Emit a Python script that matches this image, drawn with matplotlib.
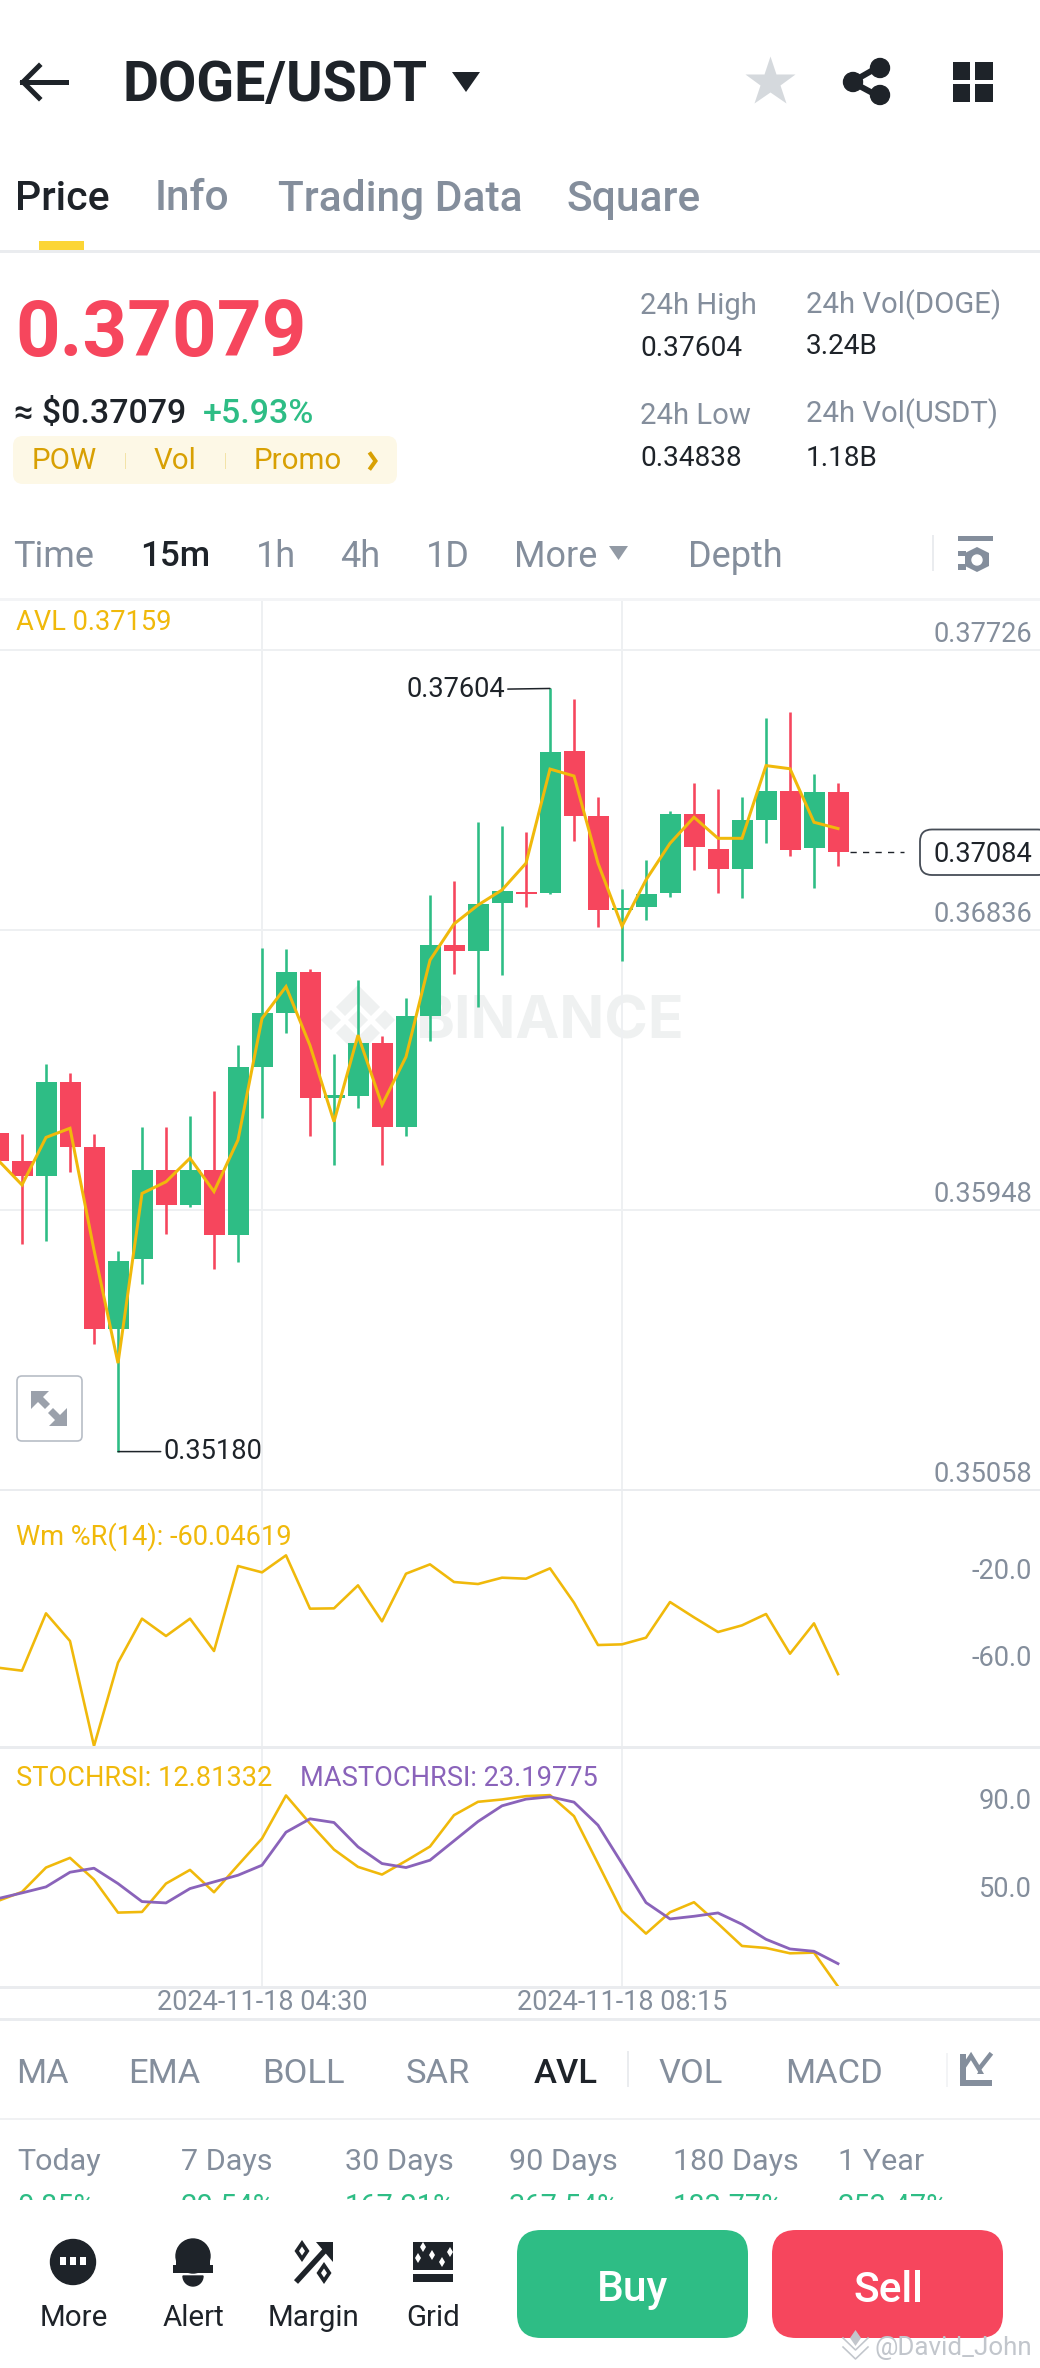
import matplotlib
matplotlib.use("Agg")
import matplotlib.pyplot as plt
from matplotlib.patches import FancyBboxPatch, Circle, Polygon, Rectangle, Wedge, Ellipse
from matplotlib.transforms import ScaledTranslation

plt.rcParams['font.family'] = ['Roboto', 'DejaVu Sans']

# ---- data ----
opens = [.36193, .36102, .36056, .36354, .36148, .35570, .35792, .36073, .35963, .36073, .35869, .36403,
         .36572, .36703, .36304, .36310, .36479, .36211, .36565, .36790, .36770, .36922, .36958, .36955,
         .37404, .37198, .36899, .36909, .36954, .37205, .37094, .37030, .37187, .37278, .37098, .37274]
highs = [.36210, .36188, .36411, .36382, .36188, .35818, .36212, .36212, .36246, .36325, .36470, .36779,
         .36775, .36713, .36443, .36678, .36500, .36622, .36949, .36992, .37179, .37167, .37147, .37604,
         .37571, .37259, .36966, .37059, .37215, .37304, .37284, .37260, .37509, .37528, .37333, .37303]
lows = [.36090, .35839, .35850, .36068, .35521, .35180, .35713, .35870, .35958, .35759, .35783, .36239,
        .36509, .36183, .36089, .36271, .36089, .36183, .36485, .36696, .36593, .36693, .36909, .36950,
        .37119, .36847, .36738, .36869, .36943, .37027, .36955, .36937, .37114, .37072, .36970, .37041]
closes = [.36104, .36056, .36354, .36148, .35570, .35786, .36073, .35963, .36073, .35869, .36402, .36574,
          .36703, .36304, .36313, .36479, .36210, .36564, .36789, .36770, .36919, .36960, .36951, .37402,
          .37198, .36899, .36906, .36951, .37205, .37101, .37030, .37187, .37278, .37092, .37275, .37084]
avl = [.36106, .36027, .36178, .36207, .35820, .35461, .36000, .36037, .36112, .36006, .36170, .36556,
       .36657, .36470, .36228, .36503, .36281, .36434, .36741, .36856, .36916, .36964, .37049, .37348,
       .37326, .37049, .36849, .36996, .37112, .37195, .37128, .37128, .37359, .37349, .37179, .37159]
wm_r = [-57.10, -58.47, -32.21, -44.88, -92.98, -54.81, -34.65, -42.59, -34.65, -49.46, -10.53, -13.43,
        -5.64, -30.07, -29.92, -19.38, -35.87, -14.04, -9.76, -17.85, -18.77, -15.87, -16.33, -11.59,
        -27.32, -46.72, -46.41, -43.36, -27.02, -34.04, -40.76, -37.71, -32.51, -50.69, -36.79, -60.05]
stoch_rsi = [51.68, 55.77, 66.83, 71.23, 61.38, 46.38, 46.68, 59.56, 65.77, 55.62, 67.89, 80.01,
             99.56, 86.83, 75.01, 67.14, 63.65, 69.86, 76.38, 90.62, 96.68, 97.74, 99.25, 99.71,
             90.16, 68.65, 46.99, 36.84, 46.53, 51.08, 41.38, 31.23, 30.32, 27.90, 28.20, 12.81]
ma_stoch_rsi = [52.74, 55.32, 58.05, 64.71, 66.53, 59.56, 51.38, 50.77, 57.29, 60.32, 63.35, 67.89,
                82.89, 88.95, 87.28, 76.23, 68.65, 66.83, 70.17, 78.95, 87.74, 94.86, 97.89, 98.95,
                96.53, 86.07, 68.65, 50.92, 43.50, 44.71, 46.23, 41.08, 34.26, 29.87, 28.81, 23.20]
price_ticks = [.37726, .36836, .35948, .35058]
price_labels = ['0.37726', '0.36836', '0.35948', '0.35058']
wm_ticks = [-20.0, -60.0]
stoch_ticks = [90.0, 50.0]
time_ticks = [11, 26]
time_labels = ['2024-11-18 04:30', '2024-11-18 08:15']
last_price = 0.37084
high_idx, high_val = 23, 0.37604
low_idx, low_val = 5, 0.35180
tabs = ['Price', 'Info', 'Trading Data', 'Square']
intervals = ['Time', '15m', '1h', '4h', '1D', 'More', 'Depth']
indicators = ['MA', 'EMA', 'BOLL', 'SAR', 'AVL', 'VOL', 'MACD']
periods = ['Today', '7 Days', '30 Days', '90 Days', '180 Days', '1 Year']
period_values = ['0.85%', '20.54%', '167.21%', '367.54%', '183.77%', '253.47%']

GREEN, RED, YEL, PUR = '#2EBD85', '#F6465D', '#F0B90B', '#8A63BA'
DARK, GRAY, GRID = '#1E2329', '#848E9C', '#EEF0F2'
W, H = 1040, 2368
PT = 0.72  # points per pixel at dpi 100
LBL = 27.2

fig = plt.figure(figsize=(W / 100, H / 100), dpi=100, facecolor='white')


def px_axes(z):
    a = fig.add_axes([0, 0, 1, 1], zorder=z)
    a.set_xlim(0, W)
    a.set_ylim(H, 0)
    a.axis('off')
    a.patch.set_alpha(0)
    return a


bg = px_axes(0)
ui = px_axes(5)


def panel(top, bottom, ylim, yticks, ylabels):
    a = fig.add_axes([0, 1 - bottom / H, 1, (bottom - top) / H], zorder=2)
    a.patch.set_alpha(0)
    a.set_xlim(2 / 24, 1042 / 24)
    a.set_ylim(*ylim)
    for s in a.spines.values():
        s.set_visible(False)
    a.set_xticks(time_ticks)
    a.tick_params(axis='x', length=0, labelbottom=False)
    a.grid(axis='x', color=GRID, lw=2 * PT)
    a.set_axisbelow(True)
    a.yaxis.tick_right()
    a.set_yticks(yticks)
    a.set_yticklabels(ylabels)
    a.tick_params(axis='y', length=0, pad=-8 * PT, labelsize=LBL * PT, labelcolor=GRAY)
    off = ScaledTranslation(0, 8 / 100, fig.dpi_scale_trans)
    for t in a.yaxis.get_major_ticks():
        t.label2.set_ha('right')
        t.label2.set_va('baseline')
        t.label2.set_transform(t.label2.get_transform() + off)
    return a


main = panel(600, 1490, (0.35058, 0.37885), price_ticks, price_labels)
main.grid(axis='y', color=GRID, lw=2 * PT)
wm = panel(1490, 1746.7, (-93.3, 24.3), wm_ticks, ['-20.0', '-60.0'])
st = panel(1746.7, 1987, (12.6, 121.7), stoch_ticks, ['90.0', '50.0'])

# candles
idx = list(range(len(opens)))
cols = [GREEN if c > o else RED for o, c in zip(opens, closes)]
main.vlines(idx, lows, highs, colors=cols, lw=2.6 * PT, zorder=2)
main.bar(idx, [abs(c - o) for o, c in zip(opens, closes)], bottom=[min(o, c) for o, c in zip(opens, closes)],
         width=0.875, color=cols, zorder=3, linewidth=0)
main.plot(idx, avl, color=YEL, lw=3 * PT, zorder=4, solid_joinstyle='miter')
wm.plot(idx, wm_r, color=YEL, lw=2.6 * PT)
st.plot(idx, stoch_rsi, color=YEL, lw=2.6 * PT, clip_on=False)
st.plot(idx, ma_stoch_rsi, color=PUR, lw=2.8 * PT)
st.set_xticklabels(time_labels)
st.tick_params(axis='x', labelbottom=True, labelsize=27 * PT, labelcolor=GRAY, pad=1.5)

main.annotate(f'{high_val:.5f}', xy=(high_idx, high_val), xytext=(-45 * PT, -1), textcoords='offset points',
              ha='right', va='center', fontsize=LBL * PT, color=DARK,
              arrowprops=dict(arrowstyle='-', lw=1.1, color=DARK, shrinkA=0, shrinkB=0))
main.annotate(f'{low_val:.5f}', xy=(low_idx, low_val), xytext=(45.5 * PT, 0), textcoords='offset points',
              ha='left', va='center', fontsize=LBL * PT, color=DARK,
              arrowprops=dict(arrowstyle='-', lw=1.1, color=DARK, shrinkA=0, shrinkB=0))
main.plot([len(opens) - 0.5, len(opens) + 1.75], [last_price, last_price], color=DARK, lw=1, ls=(0, (4.5, 4.5)), zorder=3)


def T(x, y, s, px, color=DARK, weight='normal', ha='left', va='center', a=ui, **kw):
    return a.text(x, y + 6, s, fontsize=px * PT, color=color, fontweight=weight, ha=ha, va=va, **kw)


def rect(x0, y0, x1, y1, color, a=ui, **kw):
    a.add_patch(Rectangle((x0, y0), x1 - x0, y1 - y0, facecolor=color, edgecolor='none', **kw))


def rrect(x0, y0, x1, y1, r, fc, ec='none', lw=0, a=ui, **kw):
    a.add_patch(FancyBboxPatch((x0 + r, y0 + r), x1 - x0 - 2 * r, y1 - y0 - 2 * r,
                               boxstyle=f'round,pad={r},rounding_size={r}', facecolor=fc, edgecolor=ec, lw=lw, **kw))


def poly(pts, color, a=ui, **kw):
    a.add_patch(Polygon(pts, closed=True, facecolor=color, edgecolor='none', **kw))


def line(xs, ys, color=DARK, lw=4, a=ui, **kw):
    a.plot(xs, ys, color=color, lw=lw * PT, **kw)


# watermark
WMC = '#EFF1F1'
cx, cy = 358, 1020
for dx in (-27, 0, 27):
    poly([(cx + dx - 10, cy), (cx + dx, cy - 10), (cx + dx + 10, cy), (cx + dx, cy + 10)], WMC, a=bg)
for sgn in (-1, 1):
    poly([(cx, cy + sgn * 35), (cx + 22, cy + sgn * 13), (cx + 13, cy + sgn * 4), (cx, cy + sgn * 17),
          (cx - 13, cy + sgn * 4), (cx - 22, cy + sgn * 13)], WMC, a=bg)
T(415, 1017, 'BINANCE', 59, WMC, 'bold', a=bg, zorder=1, family='Inter')

# header
line([22, 66], [82, 82], lw=5)
line([39, 23, 39], [66, 82, 98], lw=5, solid_joinstyle='miter')
T(123, 80, 'DOGE/USDT', 55.5, DARK, 'bold')
poly([(452, 72), (480, 72), (466, 92)], DARK)
ui.plot(770, 82, marker='*', ms=38, color='#D5D9DD', mec='none')
line([880, 852, 880], [66, 82, 97], lw=6)
for c in ((880, 68), (880, 95), (853, 82)):
    ui.add_patch(Circle(c, 9.5, color=DARK))
for x0, x1 in ((953, 970), (975, 993)):
    for y0, y1 in ((62, 80), (84, 102)):
        rect(x0, y0, x1, y1, DARK)

# tabs
tab_x = [15, 155, 278, 566]
for i, (s, x) in enumerate(zip(tabs, tab_x)):
    T(x, 193, s, 41 if i == 0 else 42.5, DARK if i == 0 else GRAY, 'medium')
rect(39, 241, 84, 250, '#FCD535')
rect(0, 250, W, 252.5, '#EAECEF')

# price block
T(15, 329, '0.37079', 78, RED, 'bold')
T(14, 408, '≈ $0.37079', 34, DARK, 'medium')
T(203, 408, '+5.93%', 34, GREEN, 'medium')
rrect(13, 436, 397, 484, 10, '#FDF8E6')
PC = '#D8A003'
T(32, 455, 'POW', 29.5, PC)
T(154, 455, 'Vol', 29.5, PC)
T(254, 455, 'Promo', 29.5, PC)
rect(124.5, 453, 126, 469, '#F3E3A8')
rect(224.5, 453, 226, 469, '#F3E3A8')
line([370.5, 375.5, 370.5], [454, 461, 468], color=PC, lw=4, solid_joinstyle='miter')

for x, y, s, c in [(640, 300, '24h High', GRAY), (806, 299, '24h Vol(DOGE)', GRAY), (640, 343, '0.37604', DARK),
                   (806, 341, '3.24B', DARK), (640, 410, '24h Low', GRAY), (806, 408, '24h Vol(USDT)', GRAY),
                   (640, 453, '0.34838', DARK), (806, 452, '1.18B', DARK)]:
    T(x, y, s, 29.3 if c == GRAY else 28, c)

# interval row
int_x = [13, 140, 256, 340, 426, 514, 688]
for s, x in zip(intervals, int_x):
    T(x, 551, s, 36 if s != '15m' else 35, DARK if s == '15m' else GRAY, 'medium' if s == '15m' else 'normal')
poly([(609, 546), (628, 546), (618.5, 560)], '#929AA5')
rect(932, 535, 933.5, 571, '#EAECEF')
rect(958, 536, 993, 541, GRAY)
rect(958, 551, 966, 556, GRAY)
rect(958, 564, 966, 570, GRAY)
poly([(977, 547), (989, 553), (989, 566), (977, 572), (965, 566), (965, 553)], GRAY)
ui.add_patch(Circle((977, 560), 5, color='white'))
rect(0, 597.5, W, 600.5, '#F3F4F6')

# chart overlays
T(16, 616, 'AVL 0.37159', LBL, YEL)
T(16, 1531, 'Wm %R(14): -60.04619', LBL, YEL)
T(16, 1773, 'STOCHRSI: 12.81332', LBL, YEL)
T(300, 1773, 'MASTOCHRSI: 23.19775', LBL, PUR)
rect(0, 1489, W, 1491, '#EAECEF')
rect(0, 1745.5, W, 1748.5, '#EAECEF')
rect(0, 1985.5, W, 1988.5, '#EAECEF')
rrect(920, 829.5, 1050, 875, 12, 'white', ec='#474D57', lw=1.3)
T(1032, 848, f'{last_price:.5f}', LBL, DARK, ha='right')
rrect(17, 1376, 82, 1441, 5, 'white', ec='#B7BDC6', lw=1.2)
EC = '#9BA1AB'
poly([(31, 1391), (49, 1391), (43, 1397), (50, 1404), (45, 1409), (38, 1402), (31, 1409)], EC)
poly([(67, 1426), (49, 1426), (55, 1420), (48, 1413), (53, 1408), (60, 1415), (67, 1408)], EC)

# indicator row
ind_x = [16, 128, 262, 406, 534, 659, 785]
for s, x in zip(indicators, ind_x):
    T(x, 2068, s, 34.5, DARK if s == 'AVL' else GRAY, 'medium' if s == 'AVL' else 'normal')
rect(627, 2051, 628.5, 2087, '#EAECEF')
rect(946, 2053, 947.5, 2087, '#F3F4F6')
rect(960, 2080, 992, 2086, GRAY)
rect(960, 2054, 966, 2086, GRAY)
line([963, 971, 979, 990], [2068, 2056, 2069, 2055], color=GRAY, lw=4.5, solid_joinstyle='miter')
poly([(977, 2074), (984, 2074), (980.5, 2068)], GRAY)
rect(0, 2018, W, 2021, '#EAECEF')
rect(0, 2118, W, 2120, '#F0F1F3')

# performance row
per_x = [17, 181, 345, 509, 673, 838]
for s, v, x in zip(periods, period_values, per_x):
    T(x, 2156, s, 30.5, GRAY)
    T(x, 2201, v, 29, GREEN)
rect(0, 2199.5, W, 2226, 'white', zorder=4)

# bottom bar
ui.add_patch(Circle((73, 2262), 22.5, color=DARK))
for x in (60, 70, 80):
    rect(x, 2257, x + 6, 2265, 'white')
ui.add_patch(Ellipse((193, 2256), 34, 34, color=DARK))
rect(176, 2256, 210, 2272, DARK)
rect(173, 2265, 213, 2273, DARK)
ui.add_patch(Wedge((193, 2276), 10, 0, 180, color=DARK))
line([296, 329], [2282, 2246], lw=5.5, solid_capstyle='butt')
poly([(316, 2242), (333, 2242), (333, 2262)], DARK)
for c in ((302, 2251), (324, 2273)):
    poly([(c[0] - 7.5, c[1]), (c[0], c[1] - 11), (c[0] + 7.5, c[1]), (c[0], c[1] + 11)], DARK)
    poly([(c[0] - 3, c[1]), (c[0], c[1] - 4.5), (c[0] + 3, c[1]), (c[0], c[1] + 4.5)], 'white')
rect(413, 2242, 453, 2270, DARK)
rect(413, 2274, 453, 2282, DARK)
for c in ((423, 2247), (432, 2255), (442, 2262), (418, 2258), (450, 2252)):
    poly([(c[0] - 3, c[1]), (c[0], c[1] - 5), (c[0] + 3, c[1]), (c[0], c[1] + 5)], 'white')
for s, x in (('More', 74), ('Alert', 193), ('Margin', 314), ('Grid', 433)):
    T(x, 2312, s, 29.5, DARK, ha='center')
rrect(517, 2230, 748, 2338, 24, GREEN)
rrect(772, 2230, 1003, 2338, 24, RED)
T(632, 2284, 'Buy', 42.5, 'white', 'medium', ha='center')
T(888, 2284, 'Sell', 42.5, 'white', 'medium', ha='center')
WC = '#C2C6CC'
T(874, 2342, '@David_John', 26, WC)
for dy in (0, 9):
    line([843, 855.5, 868], [2338 + dy, 2350 + dy, 2338 + dy], color=WC, lw=1.6)
poly([(850, 2338), (855.5, 2330), (861, 2338), (855.5, 2346)], WC)

fig.savefig('out.png', dpi=100, facecolor='white')
